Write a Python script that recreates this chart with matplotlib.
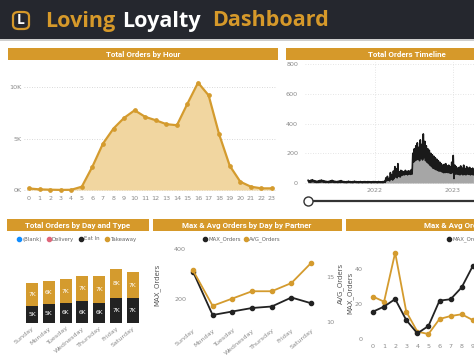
import matplotlib
matplotlib.use("Agg")
import matplotlib.pyplot as plt
import numpy as np
from matplotlib.patches import Rectangle, FancyBboxPatch
from matplotlib.lines import Line2D

W, H = 474, 355

GOLD = "#d6992a"
LINE_GOLD = "#d49b2e"
FILL_GOLD = "#f1d6a0"
DARK = "#25272e"
BLACK = "#222222"
TICK = "#8a8a8a"
LABEL = "#555555"

# ---- data -------------------------------------------------------------
hours = list(range(24))
orders_by_hour = [150, 60, 30, 10, 20, 320, 2260, 4500, 5970, 7000, 7740, 7100,
                  6770, 6390, 6290, 8390, 10420, 9190, 5390, 2350, 800, 320, 160, 160]

# timeline: weekly high / low of daily orders, weeks from 2021-02-22
timeline_start_day = -313          # days relative to 2022-01-01
weekly_high = [18, 15, 20, 22, 16, 14, 12, 15, 18, 20, 16, 14, 12, 10, 12, 15, 18, 14,
               12, 10, 12, 14, 16, 12, 10, 8, 10, 12, 10, 8, 10, 12, 10, 8, 9, 10,
               8, 9, 10, 8, 10, 9, 8, 9, 10, 9, 8, 10, 9, 8, 10, 12,
               35, 45, 30, 70, 55, 80,
               110, 95, 130, 75, 85,
               80, 75, 85, 78, 82, 80, 90,
               200, 230, 250, 270, 240, 290, 260, 330,
               280, 250, 230, 220, 200, 190, 180, 170, 160, 150, 140,
               130, 120, 125, 130, 115, 120, 110, 140, 185,
               120, 110, 100, 105, 115, 100, 120, 95, 110, 100, 105, 95, 100]
weekly_low = [6, 5, 7, 8, 5, 4, 4, 5, 6, 7, 5, 4, 4, 3, 4, 5, 6, 4,
              4, 3, 4, 4, 5, 4, 3, 2, 3, 4, 3, 2, 3, 4, 3, 2, 3, 3,
              2, 3, 3, 2, 3, 3, 2, 3, 3, 3, 2, 3, 3, 2, 3, 4,
              15, 20, 15, 25, 20, 30,
              40, 35, 45, 40, 50,
              55, 55, 60, 55, 60, 58, 60,
              140, 150, 155, 160, 150, 165, 155, 170,
              150, 140, 130, 120, 110, 100, 95, 90, 85, 80, 80,
              75, 70, 70, 72, 70, 68, 65, 70, 30,
              60, 60, 58, 55, 60, 55, 58, 55, 60, 58, 55, 58, 56]

days = ["Sunday", "Monday", "Tuesday", "Wednesday", "Thursday", "Friday", "Saturday"]
eat_in_k = [4.6, 5.2, 5.6, 6.1, 5.6, 6.9, 7.0]
takeaway_k = [6.6, 6.4, 6.6, 6.9, 7.4, 8.2, 7.1]

max_by_day = [311, 137, 151, 165, 171, 207, 184]
avg_by_day = [15.7, 11.8, 12.6, 13.4, 13.4, 14.3, 16.5]

partner_hours = list(range(11))
max_by_hour = [15.8, 18.7, 23.0, 11.0, 3.4, 7.6, 22.1, 22.9, 29.7, 41.9, 46.0]
avg_by_hour = [24.4, 21.5, 49.5, 15.8, 4.4, 3.0, 11.6, 13.3, 14.3, 11.0, 13.3]


# ---- helpers ----------------------------------------------------------
def rect(x0, y0, x1, y1):
    return [x0 / W, 1 - y1 / H, (x1 - x0) / W, (y1 - y0) / H]


def fx(x):
    return x / W


def fy(y):
    return 1 - y / H


def title_bar(x0, x1, y0, y1, text, tx, ha="center"):
    fig.add_artist(Rectangle((fx(x0), fy(y1)), (x1 - x0) / W, (y1 - y0) / H,
                             transform=fig.transFigure, color=GOLD, lw=0))
    fig.text(fx(tx), fy((y0 + y1) / 2 + 0.3), text, ha=ha, va="center", color="white",
             fontsize=5.8, fontweight="bold", family="Roboto")


def legend_item(x, y, color, text):
    fig.add_artist(Line2D([fx(x)], [fy(y)], marker="o", ms=3.0, color=color,
                          lw=0, transform=fig.transFigure))
    fig.text(fx(x + 3.2), fy(y), text, ha="left", va="center", fontsize=3.9, color="#666666")


def clean(ax):
    for s in ax.spines.values():
        s.set_visible(False)
    ax.tick_params(length=0, colors=TICK, labelsize=4.6)
    ax.set_facecolor("none")


fig = plt.figure(figsize=(W / 100, H / 100), dpi=100)
fig.patch.set_facecolor("white")

# ---- header -----------------------------------------------------------
fig.add_artist(Rectangle((0, fy(39)), 1, 39 / H, transform=fig.transFigure, color=DARK, lw=0))
fig.add_artist(Rectangle((0, fy(40.5)), 1, 1.5 / H, transform=fig.transFigure, color="#cfcfcf", lw=0))
fig.add_artist(FancyBboxPatch((fx(13), fy(29)), 16 / W, 17 / H, boxstyle="round,pad=0,rounding_size=0.012",
                              transform=fig.transFigure, fc="none", ec=GOLD, lw=1.6))
fig.text(fx(21), fy(20.5), "L", ha="center", va="center", color="white", fontsize=10,
         fontweight="bold", family="Open Sans")
for word, x, c in [("Loving", 45, GOLD), ("Loyalty", 122, "white"), ("Dashboard", 212, GOLD)]:
    fig.text(fx(x), fy(21), word, ha="left", va="center", color=c, fontsize=15.5,
             fontweight="bold", family="Open Sans")

# ---- Total Orders by Hour ---------------------------------------------
title_bar(8, 278, 48, 60, "Total Orders by Hour", 143)
ax1 = fig.add_axes(rect(24, 75, 277, 193))
ax1.fill_between(hours, orders_by_hour, color=FILL_GOLD, lw=0)
ax1.plot(hours, orders_by_hour, color=LINE_GOLD, lw=1.6, marker="o", ms=2.4)
ax1.set_xlim(-0.47, 23.47)
ax1.set_ylim(-291, 11165)
ax1.set_xticks(hours)
ax1.set_yticks([0, 5000, 10000], ["0K", "5K", "10K"])
ax1.yaxis.grid(True, ls=(0, (1, 2)), color="#cccccc", lw=0.6)
ax1.set_axisbelow(True)
clean(ax1)
ax1.tick_params(axis="y", pad=1.5)
ax1.tick_params(axis="x", pad=2.5)

# ---- Total Orders Timeline --------------------------------------------
title_bar(286, 540, 48, 60, "Total Orders Timeline", 407)
ax2 = fig.add_axes(rect(305, 62, 560, 185))
tl_x, tl_y = [], []
for i, (hi, lo) in enumerate(zip(weekly_high, weekly_low)):
    tl_x += [timeline_start_day + 7 * i, timeline_start_day + 7 * i + 3.5]
    tl_y += [hi, lo]
ax2.fill_between(tl_x, tl_y, color="#a6a6a6", lw=0)
ax2.plot(tl_x, tl_y, color="#1a1a1a", lw=1.2)
ax2.set_xlim(-327.6, 865.7)
ax2.set_ylim(-13.4, 813.4)
ax2.set_xticks([0, 365], ["2022", "2023"])
ax2.set_yticks([0, 200, 400, 600, 800])
ax2.grid(True, ls=(0, (1, 2)), color="#dddddd", lw=0.6)
ax2.set_axisbelow(True)
clean(ax2)
ax2.tick_params(axis="y", pad=5)
ax2.tick_params(axis="x", pad=2.5)

fig.add_artist(Line2D([fx(308), fx(480)], [fy(201), fy(201)], color="#333333", lw=1.6,
                      transform=fig.transFigure))
fig.add_artist(Line2D([fx(308)], [fy(201)], marker="o", ms=6.5, mfc="white", mec="#333333",
                      mew=1, lw=0, transform=fig.transFigure))

# ---- Total Orders by Day and Type -------------------------------------
title_bar(7, 149, 219, 231, "Total Orders by Day and Type", 78)
legend_item(19, 239, "#118dff", "(Blank)")
legend_item(48.7, 239, "#e0667a", "Delivery")
legend_item(80.7, 239, BLACK, "Eat In")
legend_item(106.7, 239, "#d49b2e", "Takeaway")

ax3 = fig.add_axes(rect(23.6, 245, 141.2, 323))
xd = np.arange(len(days))
ax3.bar(xd, eat_in_k, width=0.72, color=BLACK)
ax3.bar(xd, takeaway_k, width=0.72, bottom=eat_in_k, color="#d49b2e")
for i in range(len(days)):
    ax3.text(i, eat_in_k[i] / 2, f"{eat_in_k[i]:.0f}K", ha="center", va="center",
             color="white", fontsize=4.2)
    ax3.text(i, eat_in_k[i] + takeaway_k[i] / 2, f"{takeaway_k[i]:.0f}K", ha="center",
             va="center", color="white", fontsize=4.2)
ax3.set_xlim(-0.5, 6.5)
ax3.set_ylim(0, 21.7)
ax3.set_yticks([])
ax3.set_xticks(xd, days, rotation=40, ha="right", rotation_mode="anchor")
clean(ax3)
ax3.tick_params(axis="x", pad=2)

# ---- Max & Avg Orders by Day by Partner -------------------------------
title_bar(153, 342, 219, 231, "Max & Avg Orders by Day by Partner", 247)
legend_item(205, 239, BLACK, "MAX_Orders")
legend_item(246, 239, "#d49b2e", "AVG_Orders")

ax4 = fig.add_axes(rect(189, 245, 319, 325))
ax4b = ax4.twinx()
ax4.plot(xd, max_by_day, color=BLACK, lw=1.3, marker="o", ms=3)
ax4b.plot(xd, avg_by_day, color="#d49b2e", lw=1.3, marker="o", ms=3)
ax4.set_xlim(-0.2, 6.4)
ax4.set_ylim(97, 417)
ax4b.set_ylim(9.70, 18.47)
ax4.set_yticks([200, 400])
ax4b.set_yticks([10, 15])
ax4.set_xticks(xd, days, rotation=40, ha="right", rotation_mode="anchor")
for a in (ax4, ax4b):
    clean(a)
ax4.tick_params(axis="y", pad=2)
ax4b.tick_params(axis="y", pad=5)
ax4.tick_params(axis="x", pad=2)
ax4.set_ylabel("MAX_Orders", fontsize=5, color=LABEL)
ax4.yaxis.set_label_coords(-0.223, 0.5)
ax4b.set_ylabel("AVG_Orders", fontsize=5, color=LABEL)
ax4b.yaxis.set_label_coords(1.138, 0.52)

# ---- Max & Avg Orders by Hour by Partner ------------------------------
title_bar(346, 700, 219, 231, "Max & Avg Orders by Hour by Partner", 424, ha="left")
legend_item(449, 239, BLACK, "MAX_Orders")

ax5 = fig.add_axes(rect(367, 245, 634, 341))
ax5b = ax5.twinx()
ax5.plot(partner_hours, max_by_hour, color=BLACK, lw=1.3, marker="o", ms=3, zorder=3)
ax5b.plot(partner_hours, avg_by_hour, color="#d49b2e", lw=1.3, marker="o", ms=3)
ax5.set_zorder(ax5b.get_zorder() + 1)
ax5.set_xlim(-0.54, 23.54)
ax5.set_ylim(-0.97, 53.9)
ax5b.set_ylim(-0.97, 53.9)
ax5.set_yticks([0, 20, 40])
ax5b.set_yticks([])
ax5.set_xticks(partner_hours)
for a in (ax5, ax5b):
    clean(a)
ax5.tick_params(axis="y", pad=3)
ax5.tick_params(axis="x", pad=2.5)
ax5.set_ylabel("MAX_Orders", fontsize=5, color=LABEL)
ax5.yaxis.set_label_coords(-0.052, 0.5)

fig.savefig("out.png", dpi=100)
